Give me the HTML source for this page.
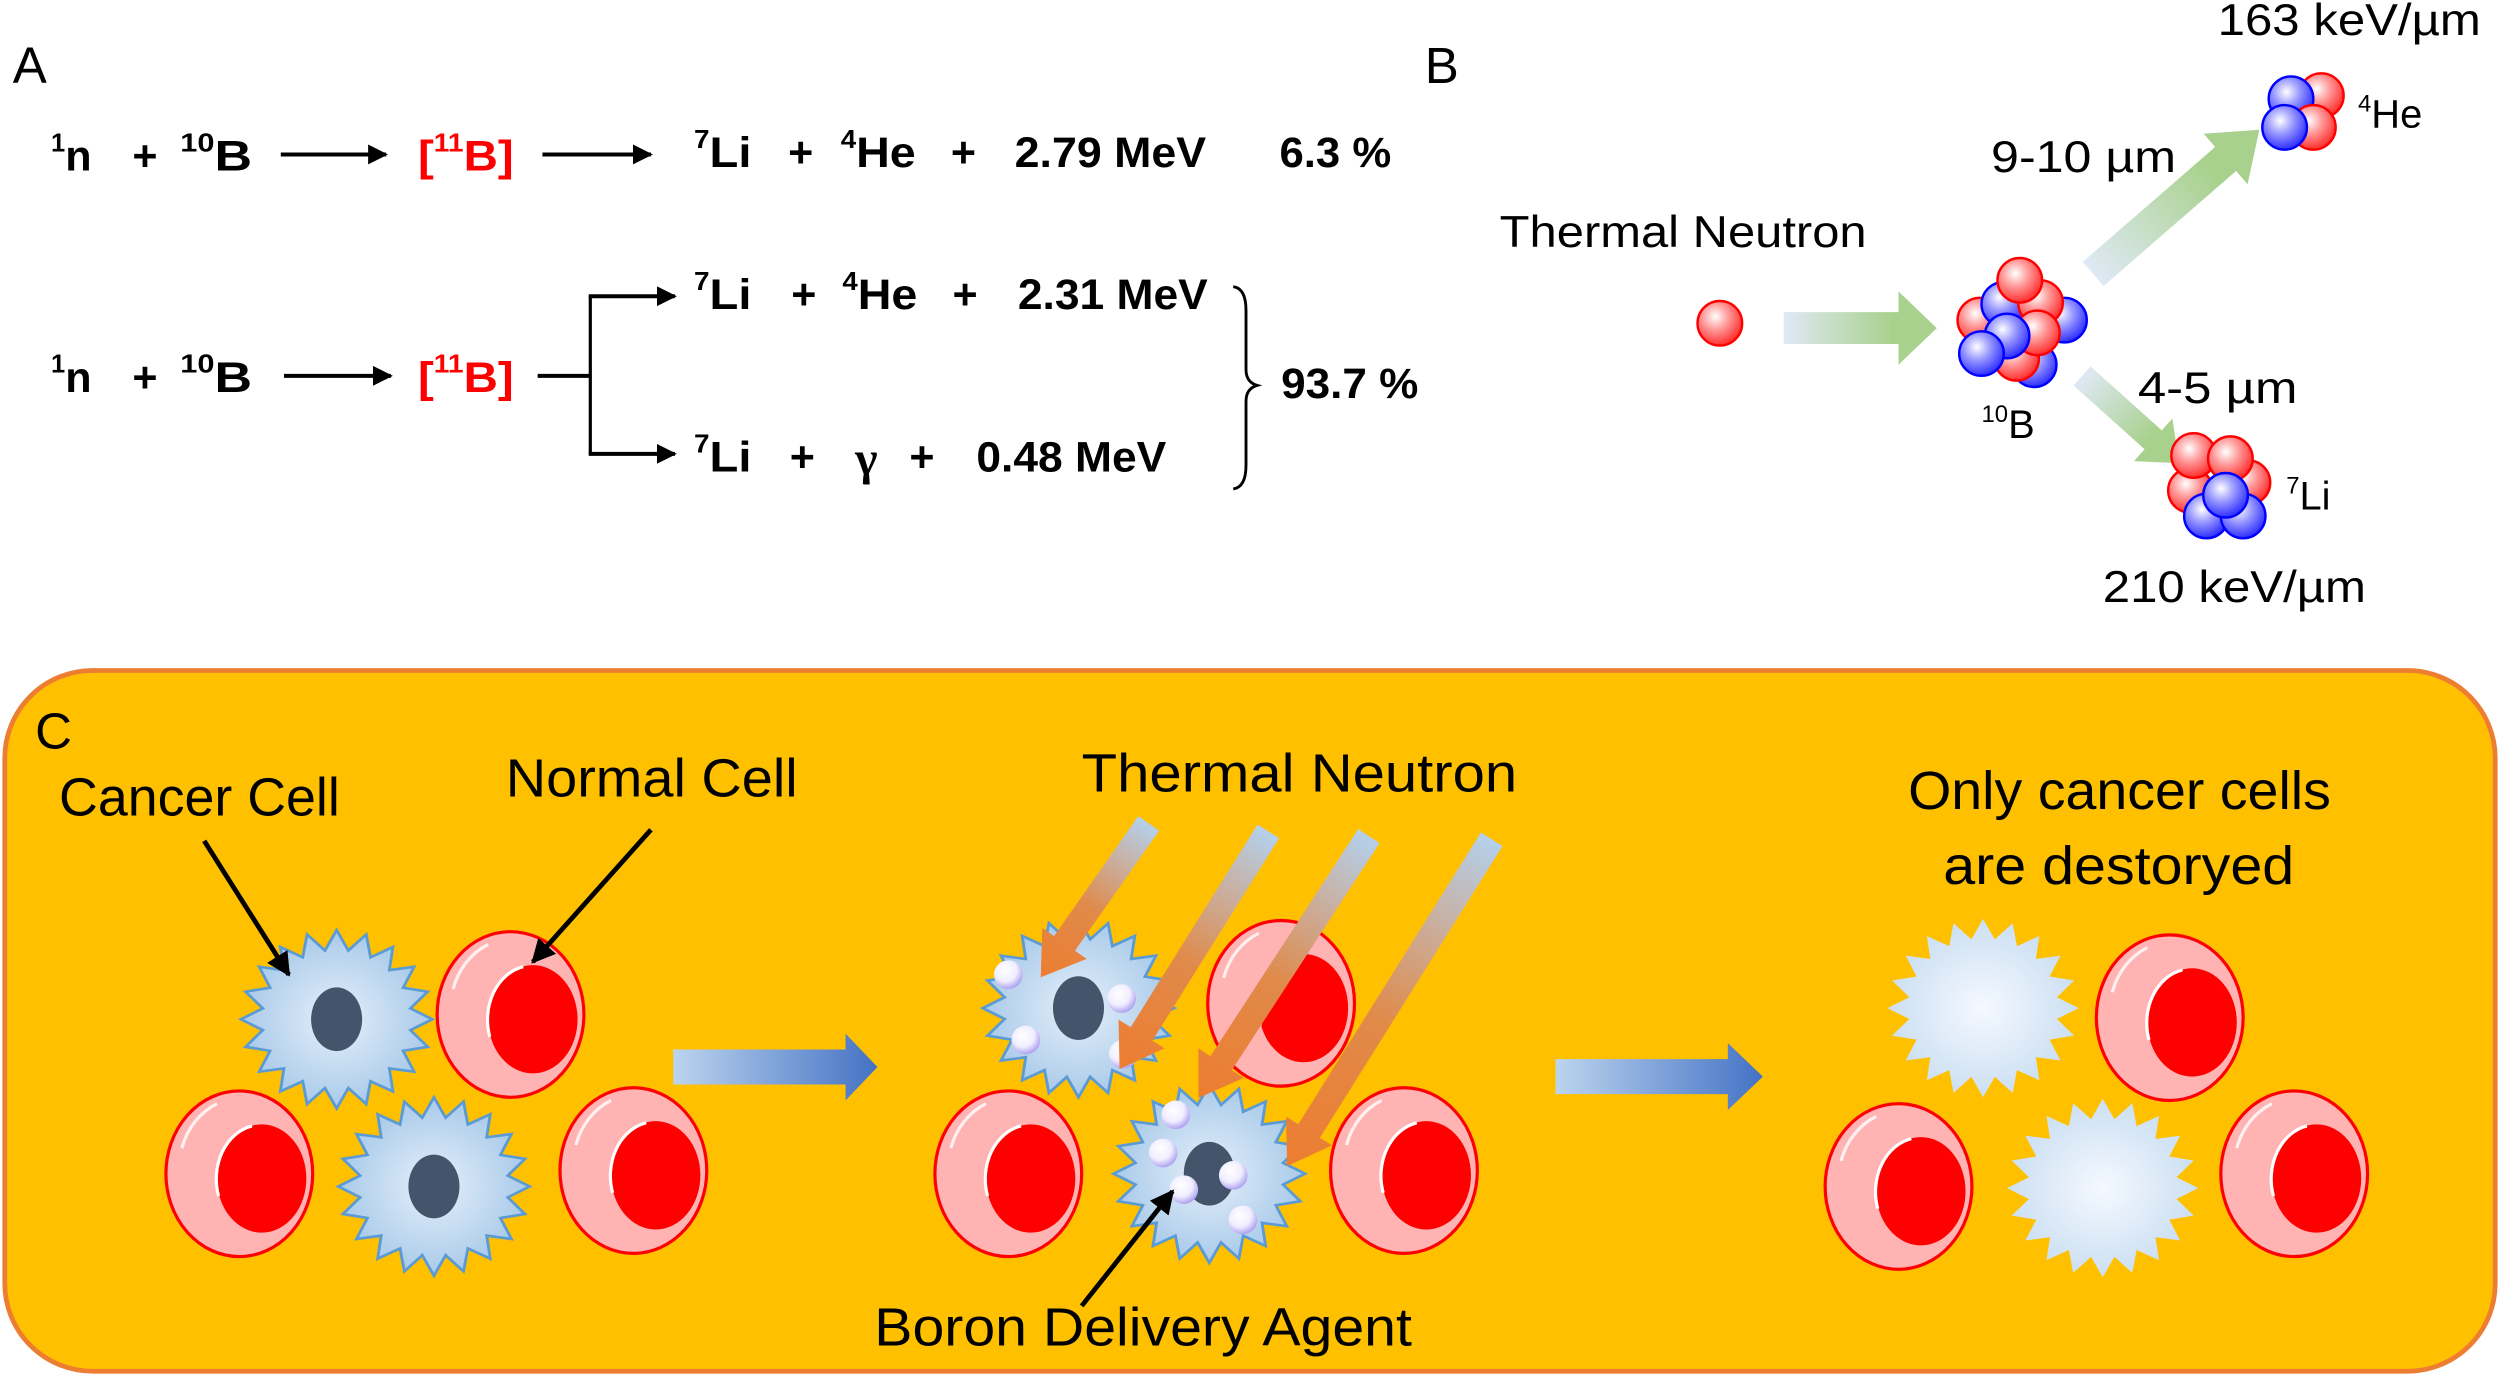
<!DOCTYPE html>
<html><head><meta charset="utf-8"><style>html,body{margin:0;padding:0;background:#fff}svg{display:block}</style></head>
<body>
<svg width="2500" height="1376" viewBox="0 0 1567 864" preserveAspectRatio="none" xmlns="http://www.w3.org/2000/svg" font-family="Liberation Sans, sans-serif">
<defs>
<radialGradient id="rs" cx="0.4" cy="0.35" r="0.65"><stop offset="0" stop-color="#fff"/><stop offset="0.45" stop-color="#ff9a9a"/><stop offset="1" stop-color="#ff3030"/></radialGradient>
<radialGradient id="bs" cx="0.4" cy="0.35" r="0.65"><stop offset="0" stop-color="#fff"/><stop offset="0.45" stop-color="#9a9aff"/><stop offset="1" stop-color="#3030ff"/></radialGradient>
<radialGradient id="cg" cx="0.5" cy="0.5" r="0.6"><stop offset="0" stop-color="#e6f0fa"/><stop offset="1" stop-color="#9cc2e6"/></radialGradient>
<radialGradient id="dg" cx="0.5" cy="0.5" r="0.6"><stop offset="0" stop-color="#f5f9ff"/><stop offset="1" stop-color="#c3daf0"/></radialGradient>
<radialGradient id="bd" cx="0.4" cy="0.35" r="0.65"><stop offset="0" stop-color="#fff"/><stop offset="0.6" stop-color="#f0eeff"/><stop offset="1" stop-color="#b0a4f0"/></radialGradient>
<linearGradient id="gh" x1="0" y1="0" x2="1" y2="0"><stop offset="0" stop-color="#dfe9f5"/><stop offset="0.7" stop-color="#a9d18e"/></linearGradient>
<linearGradient id="bh" x1="0" y1="0" x2="1" y2="0"><stop offset="0" stop-color="#bcd4ee"/><stop offset="1" stop-color="#4472c4"/></linearGradient>
<linearGradient id="oh" x1="0" y1="0" x2="1" y2="0"><stop offset="0" stop-color="#b4d0ec"/><stop offset="0.55" stop-color="#e08a4a"/><stop offset="1" stop-color="#ed7d31"/></linearGradient>
<polygon id="star" points="1,0 .771,.122 .951,.309 .695,.354 .809,.588 .551,.551 .588,.809 .354,.695 .309,.951 .122,.771 0,1 -.122,.771 -.309,.951 -.354,.695 -.588,.809 -.551,.551 -.809,.588 -.695,.354 -.951,.309 -.771,.122 -1,0 -.771,-.122 -.951,-.309 -.695,-.354 -.809,-.588 -.551,-.551 -.588,-.809 -.354,-.695 -.309,-.951 -.122,-.771 0,-1 .122,-.771 .309,-.951 .354,-.695 .588,-.809 .551,-.551 .809,-.588 .695,-.354 .951,-.309 .771,-.122"/>
<g id="ncell"><ellipse cx="0" cy="0" rx="46" ry="52" fill="#ffb3b3" stroke="#ff0000" stroke-width="2"/><path d="M-36,-16 A40,44 0 0 1 -14,-44" stroke="#fff" stroke-width="2" fill="none" opacity="0.8"/><ellipse cx="14" cy="3" rx="28" ry="34" fill="#ff0000"/><path d="M-13,14 A28,34 0 0 1 8,-30" stroke="#fff" stroke-width="2" fill="none"/></g>
<g id="ccell"><use href="#star" transform="scale(60,56)" fill="url(#cg)" stroke="#5b9bd5" stroke-width="0.03"/><ellipse cx="0" cy="0" rx="16" ry="20" fill="#44546a"/></g>
<g id="dcell"><use href="#star" transform="scale(60,56)" fill="url(#dg)"/></g>
<circle id="dot" r="9" fill="url(#bd)"/>
<circle id="R" r="14" fill="url(#rs)" stroke="#ff0000" stroke-width="1.5"/>
<circle id="Bl" r="14" fill="url(#bs)" stroke="#0000ff" stroke-width="1.5"/>
<marker id="ah" viewBox="0 0 10 10" refX="9" refY="5" markerWidth="5" markerHeight="5" orient="auto"><path d="M0,0 L10,5 L0,10 z" fill="#000"/></marker>
</defs>

<!-- Panel A -->
<text x="8" y="52" font-size="32">A</text>
<g font-weight="bold" font-size="27" lengthAdjust="spacingAndGlyphs">
<text x="32" y="107"><tspan font-size="16" dy="-12">1</tspan><tspan dy="12">n</tspan></text>
<text x="83" y="107">+</text>
<text x="113" y="107" textLength="45" lengthAdjust="spacingAndGlyphs"><tspan font-size="16" dy="-12">10</tspan><tspan dy="12">B</tspan></text>
<text x="262" y="107" fill="#ff0000" textLength="60" lengthAdjust="spacingAndGlyphs">[<tspan font-size="16" dy="-12">11</tspan><tspan dy="12">B]</tspan></text>
<text x="435" y="105" textLength="36" lengthAdjust="spacingAndGlyphs"><tspan font-size="16" dy="-12">7</tspan><tspan dy="12">Li</tspan></text>
<text x="494" y="105">+</text>
<text x="527" y="105" textLength="47" lengthAdjust="spacingAndGlyphs"><tspan font-size="16" dy="-12">4</tspan><tspan dy="12">He</tspan></text>
<text x="596" y="105">+</text>
<text x="636" y="105" textLength="120" lengthAdjust="spacingAndGlyphs">2.79 MeV</text>
<text x="802" y="105" textLength="70" lengthAdjust="spacingAndGlyphs">6.3 %</text>

<text x="435" y="194" textLength="36" lengthAdjust="spacingAndGlyphs"><tspan font-size="16" dy="-12">7</tspan><tspan dy="12">Li</tspan></text>
<text x="496" y="194">+</text>
<text x="528" y="194" textLength="47" lengthAdjust="spacingAndGlyphs"><tspan font-size="16" dy="-12">4</tspan><tspan dy="12">He</tspan></text>
<text x="597" y="194">+</text>
<text x="638" y="194" textLength="119" lengthAdjust="spacingAndGlyphs">2.31 MeV</text>

<text x="32" y="246"><tspan font-size="16" dy="-12">1</tspan><tspan dy="12">n</tspan></text>
<text x="83" y="246">+</text>
<text x="113" y="246" textLength="45" lengthAdjust="spacingAndGlyphs"><tspan font-size="16" dy="-12">10</tspan><tspan dy="12">B</tspan></text>
<text x="262" y="246" fill="#ff0000" textLength="60" lengthAdjust="spacingAndGlyphs">[<tspan font-size="16" dy="-12">11</tspan><tspan dy="12">B]</tspan></text>

<text x="435" y="296" textLength="36" lengthAdjust="spacingAndGlyphs"><tspan font-size="16" dy="-12">7</tspan><tspan dy="12">Li</tspan></text>
<text x="495" y="296">+</text>
<text x="536" y="298" font-family="Liberation Serif, serif" font-size="30">γ</text>
<text x="570" y="296">+</text>
<text x="612" y="296" textLength="119" lengthAdjust="spacingAndGlyphs">0.48 MeV</text>
<text x="803" y="250" textLength="86" lengthAdjust="spacingAndGlyphs">93.7 %</text>
</g>
<g stroke="#000" stroke-width="2.5" fill="none">
<line x1="176" y1="97" x2="242" y2="97" marker-end="url(#ah)"/>
<line x1="340" y1="97" x2="408" y2="97" marker-end="url(#ah)"/>
<line x1="178" y1="236" x2="245" y2="236" marker-end="url(#ah)"/>
<line x1="337" y1="236" x2="370" y2="236"/>
<polyline points="370,186 370,285" stroke-width="2"/>
<line x1="369" y1="186" x2="423" y2="186" marker-end="url(#ah)"/>
<line x1="369" y1="285" x2="423" y2="285" marker-end="url(#ah)"/>
<path d="M773,180 Q781,181 781,195 L781,232 Q781,240 788,242 Q781,244 781,252 L781,292 Q781,306 773,307" stroke-width="1.8"/>
</g>

<!-- Panel B -->
<text x="893" y="52" font-size="32">B</text>
<g font-size="28">
<text x="1390" y="22" textLength="165" lengthAdjust="spacingAndGlyphs">163 keV/µm</text>
<text x="1248" y="108" textLength="116" lengthAdjust="spacingAndGlyphs">9-10 µm</text>
<text x="940" y="155" textLength="230" lengthAdjust="spacingAndGlyphs">Thermal Neutron</text>
<text x="1340" y="253" textLength="100" lengthAdjust="spacingAndGlyphs">4-5 µm</text>
<text x="1318" y="378" textLength="165" lengthAdjust="spacingAndGlyphs">210 keV/µm</text>
<text x="1478" y="80" font-size="25"><tspan font-size="15" dy="-10">4</tspan><tspan dy="10">He</tspan></text>
<text x="1433" y="320" font-size="25"><tspan font-size="15" dy="-10">7</tspan><tspan dy="10">Li</tspan></text>
<text x="1242" y="275" font-size="25"><tspan font-size="15" dy="-10">10</tspan><tspan dy="10">B</tspan></text>
</g>
<polygon points="0,-10 72,-10 72,-23 96,0 72,23 72,10 0,10" fill="url(#gh)" transform="translate(1118,206)"/>
<polygon points="0,-10 110,-10 110,-21 138,0 110,21 110,10 0,10" fill="url(#gh)" transform="translate(1312,172) rotate(-41)"/>
<polygon points="0,-8 60,-8 60,-18 82,0 60,18 60,8 0,8" fill="url(#gh)" transform="translate(1305,236) rotate(42)"/>
<use href="#R" x="1078" y="203"/>
<use href="#Bl" x="1275" y="229"/><use href="#R" x="1264" y="225"/>
<use href="#R" x="1241" y="201"/><use href="#Bl" x="1256" y="191"/>
<use href="#Bl" x="1294" y="201"/><use href="#R" x="1279" y="190"/>
<use href="#R" x="1266" y="176"/>
<use href="#R" x="1277" y="209"/><use href="#Bl" x="1258" y="211"/><use href="#Bl" x="1242" y="222"/>
<use href="#R" x="1455" y="60"/><use href="#Bl" x="1436" y="62"/><use href="#R" x="1450" y="80"/><use href="#Bl" x="1432" y="80"/>
<use href="#R" x="1409" y="303"/><use href="#R" x="1373" y="308"/><use href="#R" x="1375" y="286"/><use href="#R" x="1398" y="288"/>
<use href="#Bl" x="1383" y="324"/><use href="#Bl" x="1406" y="324"/><use href="#Bl" x="1395" y="311"/>

<!-- Panel C -->
<rect x="3" y="421" width="1561" height="440" rx="55" fill="#ffc000" stroke="#ed7d31" stroke-width="3"/>
<text x="22" y="470" font-size="32">C</text>
<g font-size="34">
<text x="37" y="512" textLength="176" lengthAdjust="spacingAndGlyphs">Cancer Cell</text>
<text x="317" y="500" textLength="183" lengthAdjust="spacingAndGlyphs">Normal Cell</text>
<text x="678" y="497" textLength="273" lengthAdjust="spacingAndGlyphs">Thermal Neutron</text>
<text x="1196" y="508" textLength="265" lengthAdjust="spacingAndGlyphs">Only cancer cells</text>
<text x="1218" y="555" textLength="220" lengthAdjust="spacingAndGlyphs">are destoryed</text>
<text x="548" y="845" textLength="337" lengthAdjust="spacingAndGlyphs">Boron Delivery Agent</text>
</g>
<use href="#ncell" x="320" y="637"/>
<use href="#ccell" x="211" y="640"/>
<use href="#ncell" x="150" y="737"/>
<use href="#ncell" x="397" y="735"/>
<use href="#ccell" x="272" y="745"/>
<g stroke="#000" stroke-width="3" fill="none">
<line x1="128" y1="528" x2="181" y2="612" marker-end="url(#ah)"/>
<line x1="408" y1="521" x2="334" y2="604" marker-end="url(#ah)"/>
</g>
<polygon points="0,-11 108,-11 108,-21 128,0 108,21 108,11 0,11" fill="url(#bh)" transform="translate(422,670)"/>
<polygon points="0,-11 108,-11 108,-21 130,0 108,21 108,11 0,11" fill="url(#bh)" transform="translate(975,676)"/>
<use href="#ncell" x="803" y="630"/>
<use href="#ccell" x="676" y="633"/>
<use href="#ncell" x="632" y="737"/>
<use href="#ncell" x="880" y="735"/>
<use href="#ccell" x="758" y="737"/>
<use href="#dot" x="632" y="612"/><use href="#dot" x="703" y="627"/><use href="#dot" x="643" y="653"/><use href="#dot" x="704" y="662"/>
<use href="#dot" x="737" y="700"/><use href="#dot" x="729" y="724"/><use href="#dot" x="742" y="747"/><use href="#dot" x="773" y="738"/><use href="#dot" x="779" y="766"/>
<polygon points="0,-8 92,-8 92,-17 118,0 92,17 92,8 0,8" fill="url(#oh)" transform="translate(720,517) rotate(125)"/>
<polygon points="0,-8 150,-8 150,-17 176,0 150,17 150,8 0,8" fill="url(#oh)" transform="translate(795,522) rotate(122)"/>
<polygon points="0,-8 170,-8 170,-17 196,0 170,17 170,8 0,8" fill="url(#oh)" transform="translate(858,525) rotate(123)"/>
<polygon points="0,-8 216,-8 216,-17 242,0 216,17 216,8 0,8" fill="url(#oh)" transform="translate(935,527) rotate(122)"/>
<line x1="678" y1="820" x2="735" y2="748" stroke="#000" stroke-width="3" marker-end="url(#ah)"/>
<use href="#dcell" x="1243" y="633"/>
<use href="#ncell" x="1360" y="639"/>
<use href="#ncell" x="1190" y="745"/>
<use href="#ncell" x="1438" y="737"/>
<use href="#dcell" x="1318" y="746"/>
</svg>
</body></html>
